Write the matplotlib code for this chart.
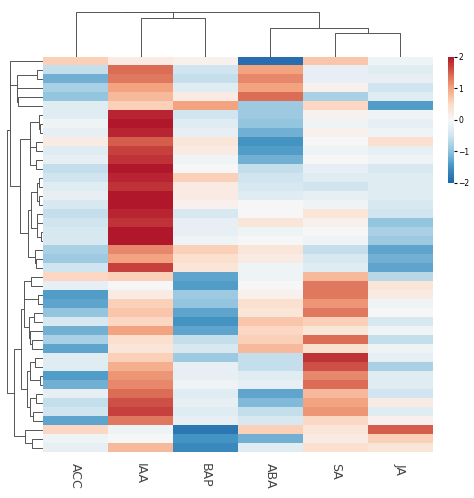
import numpy as np
import matplotlib
matplotlib.use('Agg')
import matplotlib.pyplot as plt
from matplotlib.colors import LinearSegmentedColormap

columns = ['ACC', 'IAA', 'BAP', 'ABA', 'SA', 'JA']

# z-scores per row, read top to bottom (columns as above)
acc = [0.6, -0.6, -1.2, -0.8, -1.0, -0.3, -0.3, -0.1, -0.2, 0.2, -0.3, -0.2, -0.6, -0.5, -0.3,
       -0.2, -0.4, -0.6, -0.5, -0.4, -0.4, -0.8, -0.9, -0.5, 0.5, -0.2, -1.4, -1.3, -1.0, -0.4,
       -1.2, -0.8, -1.3, -0.3, -0.3, -1.4, -1.2, -0.2, -0.6, -0.5, -1.3, 0.5, -0.1, -0.2]
iaa = [0.2, 1.4, 1.3, 1.0, 0.8, 0.6, 1.9, 2.0, 1.9, 1.5, 1.7, 1.8, 2.0, 1.9, 1.8,
       2.0, 2.0, 1.9, 1.8, 2.0, 2.0, 1.2, 1.0, 1.7, 0.6, 0.0, 0.2, 0.6, 0.7, 0.5,
       1.0, 0.4, 0.3, 0.6, 0.9, 1.1, 1.2, 1.4, 1.6, 1.7, 1.3, -0.1, 0.0, 0.8]
bap = [0.1, -0.5, -0.6, -0.3, 0.2, 1.0, -0.5, -0.3, -0.2, 0.3, 0.2, -0.1, 0.0, 0.6, 0.2,
       0.2, 0.1, -0.4, -0.2, -0.2, -0.1, 0.6, 0.4, 0.3, -1.3, -1.4, -0.9, -1.0, -1.3, -1.5,
       -1.3, -0.6, -0.4, -0.9, -0.2, -0.2, -0.1, -0.3, -0.2, -0.3, -0.2, -1.8, -1.5, -1.6]
aba = [-1.9, 1.0, 1.2, 1.0, 1.4, -0.9, -0.9, -1.0, -1.2, -1.5, -1.4, -1.2, -0.6, -0.5, -0.4,
       -0.3, 0.0, 0.0, 0.3, -0.1, 0.0, 0.3, 0.2, -0.1, -0.1, 0.0, 0.1, 0.4, 0.3, 0.7,
       0.5, 0.6, 0.8, -0.6, -0.6, -0.3, -0.2, -1.3, -1.1, -0.6, -0.4, 0.6, -1.2, -0.3]
sa = [0.7, -0.2, -0.2, 0.1, -0.8, 0.5, 0.1, -0.1, 0.1, 0.0, -0.1, 0.0, -0.2, -0.3, -0.5,
      -0.2, -0.1, 0.3, 0.1, 0.0, -0.1, -0.6, -0.4, -0.3, 0.8, 1.3, 1.3, 1.1, 1.3, 0.6,
      0.3, 1.4, 0.4, 1.8, 1.6, 1.2, 1.4, 0.8, 1.0, 1.1, 0.5, 0.3, 0.2, 0.4]
ja = [-0.1, -0.3, -0.2, -0.5, -0.3, -1.4, -0.1, -0.2, -0.1, 0.4, -0.2, -0.1, -0.4, -0.3, -0.3,
      -0.3, -0.4, -0.5, -1.0, -0.8, -0.9, -1.3, -1.2, -1.3, -0.7, 0.3, 0.2, -0.1, 0.0, -0.4,
      -0.1, -0.6, -0.1, -0.2, -0.8, -0.3, -0.3, -0.5, 0.2, -0.3, 0.1, 1.5, 0.6, 0.3]

# cluster structure (leaf order as shown)
row_tree = [[[0, list(range(1, 6))], [list(range(6, 13)), [list(range(13, 21)), list(range(21, 24))]]],
            [[list(range(24, 33)), list(range(33, 41))], [41, [42, 43]]]]
col_tree = [[0, [1, 2]], [3, [4, 5]]]

data = np.array([acc, iaa, bap, aba, sa, ja]).T


def binarize(node):
    if isinstance(node, int):
        return node
    if len(node) == 1:
        return binarize(node[0])
    if len(node) > 2:
        h = len(node) // 2
        return [binarize(node[:h]), binarize(node[h:])]
    return [binarize(node[0]), binarize(node[1])]


def leaves(node):
    return [node] if isinstance(node, int) else leaves(node[0]) + leaves(node[1])


def draw_tree(ax, node, vecs, horizontal):
    # returns (position, height); complete linkage distances
    if isinstance(node, int):
        return node + 0.5, 0.0
    p1, h1 = draw_tree(ax, node[0], vecs, horizontal)
    p2, h2 = draw_tree(ax, node[1], vecs, horizontal)
    a, b = leaves(node[0]), leaves(node[1])
    d = max(np.linalg.norm(vecs[i] - vecs[j]) for i in a for j in b)
    h = max(d, h1, h2) + 0.05
    if horizontal:
        ax.plot([h1, h, h, h2], [p1, p1, p2, p2], color='#555555', lw=0.7)
    else:
        ax.plot([p1, p1, p2, p2], [h1, h, h, h2], color='#555555', lw=0.7)
    return (p1 + p2) / 2, h


base = plt.get_cmap('RdBu_r')
cmap = LinearSegmentedColormap.from_list('rb', base(np.linspace(0.1, 0.9, 256)))

fig = plt.figure(figsize=(4.74, 4.98), dpi=100)
ax = fig.add_axes([0.091, 0.092, 0.822, 0.794])
im = ax.imshow(data, cmap=cmap, vmin=-2, vmax=2, aspect='auto',
               extent=[0, 6, data.shape[0], 0], interpolation='nearest')
ax.set_xticks(np.arange(6) + 0.5)
ax.set_xticklabels(columns, rotation=270, fontsize=9, color='#444444')
ax.tick_params(axis='x', length=0, pad=8)
ax.set_yticks([])
for s in ax.spines.values():
    s.set_visible(False)

axc = fig.add_axes([0.091, 0.886, 0.822, 0.094])
draw_tree(axc, binarize(col_tree), data.T, False)
axc.set_xlim(0, 6)
axc.set_ylim(0, None)
axc.axis('off')

axr = fig.add_axes([0.01, 0.092, 0.081, 0.794])
draw_tree(axr, binarize(row_tree), data, True)
axr.set_ylim(data.shape[0], 0)
axr.invert_xaxis()
axr.set_xlim(axr.get_xlim()[0], 0)
axr.axis('off')

cax = fig.add_axes([0.945, 0.633, 0.013, 0.253])
cb = fig.colorbar(im, cax=cax, ticks=[-2, -1, 0, 1, 2])
cb.ax.tick_params(labelsize=5.5, length=2, pad=1)
cb.outline.set_visible(False)

fig.savefig('out.png', dpi=100)
